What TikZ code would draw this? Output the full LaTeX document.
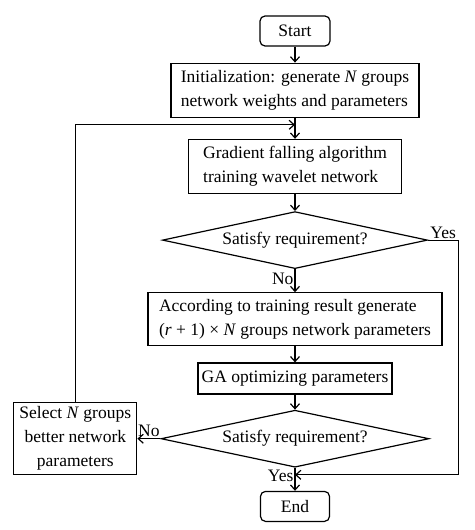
\documentclass[tikz,border=0pt]{standalone}
\usepackage{fontspec}
\setmainfont{Liberation Serif}
\usetikzlibrary{positioning,shapes.geometric,arrows.meta}

\begin{document}
\begin{tikzpicture}[
  font=\fontsize{17.5}{24}\selectfont,
  >={Straight Barb[length=5pt,width=9pt]},
  box/.style={draw, line width=1.2, inner sep=2pt},
  term/.style={box, rounded corners=5pt},
  cond/.style={draw, line width=1.2, diamond, inner sep=0pt, aspect=4.7},
  lbl/.style={inner sep=1pt}
]
  \useasboundingbox (0,0) rectangle (474pt,-530pt);
  % nodes
  \node[term, minimum width=70pt, minimum height=30pt] (start) at (295pt,-31pt) {Start};
  \node[box, below=16pt of start, minimum width=248pt, minimum height=54pt, align=left] (init) {Initialization: generate \textit{N} groups\\network weights and parameters};
  \node[box, below=21pt of init, minimum width=213pt, minimum height=54pt, align=left] (grad) {Gradient falling algorithm\\training wavelet network};
  \node[cond, below=17pt of grad, minimum width=265pt, minimum height=57pt] (d1) {Satisfy requirement?};
  \node[box, below=23pt of d1, minimum width=294pt, minimum height=53pt, align=left] (acc) {According to training result generate\\(\textit{r} + 1) × \textit{N} groups network parameters};
  \node[box, below=16pt of acc, minimum width=194pt, minimum height=31pt] (ga) {GA optimizing parameters};
  \node[cond, below=15pt of ga, minimum width=268pt, minimum height=57pt] (d2) {Satisfy requirement?};
  \node[term, below=23pt of d2, minimum width=69pt, minimum height=30pt] (end) {End};
  \node[box, left=23pt of d2, minimum width=123pt, minimum height=72pt, align=center] (sel) {Select \textit{N} groups\\better network\\parameters};
  \coordinate[below=7pt of init] (m);
  \coordinate[below=7pt of d2] (j);

  % edges
  \draw[->, line width= 1.2] (start) -- (init);
  \draw[->, line width= 1.2] (init) -- (grad);
  \draw[->, line width= 1.2] (grad) -- (d1);
  \draw[->, line width= 1.2] (d1) -- node[lbl, pos=0.4, left] {No} (acc);
  \draw[->, line width= 1.2] (acc) -- (ga);
  \draw[->, line width= 1.2] (ga) -- (d2);
  \draw[->, line width= 1.2] (d2) -- node[lbl, pos=0.35, left] {Yes} (end);
  \draw[->, line width= 1.2] (d2) -- node[lbl, above] {No} (sel);
  \draw[->, line width= 1.2] (d1.east) -- node[lbl, above] {Yes} ++(30pt,0) |- (j);
  \draw[->, line width= 1.2] (sel) |- (m);
\end{tikzpicture}
\end{document}
